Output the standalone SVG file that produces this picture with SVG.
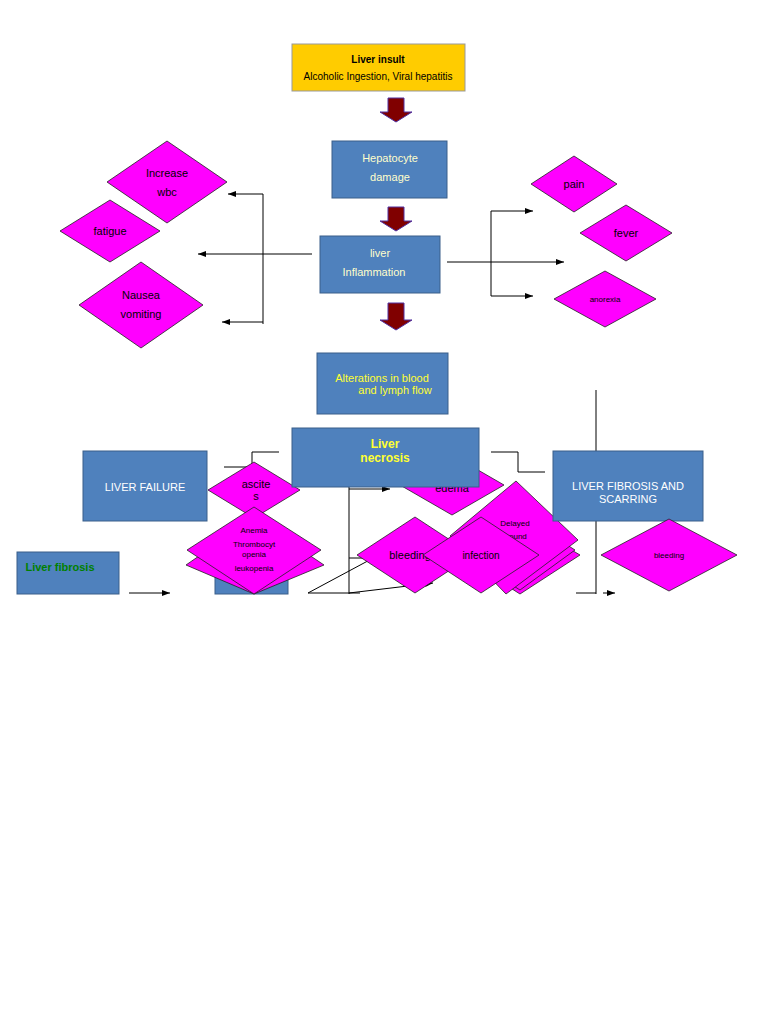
<svg xmlns="http://www.w3.org/2000/svg" width="768" height="1024" viewBox="0 0 768 1024">
<defs>
<style>
.b{fill:#4F81BD;stroke:#3A5F8A;stroke-width:1}
.d{fill:#FF00FF;stroke:#222;stroke-width:0.8}
.l{fill:none;stroke:#000;stroke-width:1}
.t{font-family:"Liberation Sans",Arial,sans-serif;text-anchor:middle}
.ra{fill:#800000;stroke:#5030A0;stroke-width:1}
</style>
<marker id="a" markerWidth="8" markerHeight="6" refX="8" refY="3" orient="auto"><path d="M0,0L8,3L0,6z" fill="#000"/></marker>
</defs>
<rect width="768" height="1024" fill="#fff"/>
<g id="insult"><rect x="292" y="44" width="173" height="47" fill="#FFCC00" stroke="#999"/>
<text class="t" x="378" y="63" font-size="10" font-weight="bold">Liver insult</text>
<text class="t" x="378" y="80" font-size="10">Alcoholic Ingestion, Viral hepatitis</text></g>
<g id="bigarrows">
<path class="ra" d="M388,98h16v14h8l-16,10l-16-10h8z"/>
<path class="ra" d="M388,207h16v14h8l-16,10l-16-10h8z"/>
<path class="ra" d="M388,303h16v17h8l-16,10l-16-10h8z"/>
</g>
<g id="connectors">
<path class="l" d="M312,254H198" marker-end="url(#a)"/>
<path class="l" d="M263,194V324"/>
<path class="l" d="M263,194H228" marker-end="url(#a)"/>
<path class="l" d="M263,322H222" marker-end="url(#a)"/>
<path class="l" d="M447,262H564" marker-end="url(#a)"/>
<path class="l" d="M491,211V296"/>
<path class="l" d="M491,211H533" marker-end="url(#a)"/>
<path class="l" d="M491,296H533" marker-end="url(#a)"/>
<path class="l" d="M596,390V594"/>
<path class="l" d="M349,470V594"/>
<path class="l" d="M349,489H390" marker-end="url(#a)"/>
<path class="l" d="M491,452H518V472H545"/>
<path class="l" d="M279,452H252V467H224"/>
<path class="l" d="M129,593H170" marker-end="url(#a)"/>
<path class="l" d="M308,593L377,556" marker-end="url(#a)"/>
<path class="l" d="M308,593H360"/>
<path class="l" d="M349,558H412" marker-end="url(#a)"/>
<path class="l" d="M349,593L433,583" marker-end="url(#a)"/>
<path class="l" d="M576,593H596"/>
<path class="l" d="M603,593H615" marker-end="url(#a)"/>
</g>
<g id="increase"><polygon class="d" points="167,141 227,182 167,223 107,182"/><text class="t" x="167" y="177" font-size="11">Increase</text><text class="t" x="167" y="196" font-size="11">wbc</text></g>
<g id="fatigue"><polygon class="d" points="110,200 160,231 110,262 60,231"/><text class="t" x="110" y="235" font-size="11">fatigue</text></g>
<g id="nausea"><polygon class="d" points="141,262 203,305 141,348 79,305"/><text class="t" x="141" y="299" font-size="11">Nausea</text><text class="t" x="141" y="318" font-size="11">vomiting</text></g>
<g id="pain"><polygon class="d" points="574,156 617,184 574,212 531,184"/><text class="t" x="574" y="188" font-size="11">pain</text></g>
<g id="fever"><polygon class="d" points="626,205 672,233 626,261 580,233"/><text class="t" x="626" y="237" font-size="11">fever</text></g>
<g id="anorexia"><polygon class="d" points="605,271 656,299 605,327 554,299"/><text class="t" x="605" y="302" font-size="8">anorexia</text></g>
<g id="hepatocyte"><rect class="b" x="332" y="141" width="115" height="57"/><text class="t" x="390" y="162" font-size="11" fill="#FFFFCC">Hepatocyte</text><text class="t" x="390" y="181" font-size="11" fill="#FFFFCC">damage</text></g>
<g id="inflammation"><rect class="b" x="320" y="236" width="120" height="57"/><text class="t" x="380" y="257" font-size="11" fill="#FFFFCC">liver</text><text class="t" x="374" y="276" font-size="11" fill="#FFFFCC">Inflammation</text></g>
<g id="alterations"><rect class="b" x="317" y="353" width="131" height="61"/><text class="t" x="382" y="382" font-size="11" fill="#FFFF33">Alterations in blood</text><text class="t" x="395" y="394" font-size="11" fill="#FFFF33">and lymph flow</text></g>
<g id="failure"><rect class="b" x="83" y="451" width="124" height="70"/><text class="t" x="145" y="491" font-size="11" fill="#fff">LIVER FAILURE</text></g>
<g id="fibrosis"><rect class="b" x="17" y="552" width="102" height="42"/><text class="t" x="60" y="571" font-size="11" font-weight="bold" fill="#008000">Liver fibrosis</text></g>
<g id="smallbox"><rect class="b" x="215" y="568" width="73" height="26"/></g>
<g id="edema"><polygon class="d" points="452,455 504,485 452,515 400,485"/><text class="t" x="452" y="492" font-size="11">edema</text></g>
<g id="delayed">
<polygon class="d" points="516,517 580,555 520,594 460,556"/>
<polygon class="d" points="516,512 575,550 520,590 460,552"/>
<polygon class="d" points="516,481 578,540 506,594 450,536"/>
<text class="t" x="515" y="526" font-size="8">Delayed</text><text class="t" x="515" y="539" font-size="8">wound</text></g>
<g id="bleeding1"><polygon class="d" points="415,517 473,555 415,593 357,555"/><text class="t" x="410" y="559" font-size="11">bleeding</text></g>
<g id="infection"><polygon class="d" points="481,517 539,555 481,593 423,555"/><text class="t" x="481" y="559" font-size="10">infection</text></g>
<g id="ascites"><polygon class="d" points="254,462 300,490 254,518 208,490"/><text class="t" x="256" y="488" font-size="11">ascite</text><text class="t" x="256" y="500" font-size="11">s</text></g>
<g id="anemia">
<polygon class="d" points="254,518 324,565 254,594 186,565"/>
<polygon class="d" points="254,507 321,550 254,594 187,550"/>
<text class="t" x="254" y="533" font-size="8">Anemia</text><text class="t" x="254" y="547" font-size="8">Thrombocyt</text><text class="t" x="254" y="557" font-size="8">openia</text><text class="t" x="254" y="571" font-size="8">leukopenia</text></g>
<g id="necrosis"><rect class="b" x="292" y="428" width="187" height="59"/><text class="t" x="385" y="448" font-size="12" font-weight="bold" fill="#FFFF33">Liver</text><text class="t" x="385" y="462" font-size="12" font-weight="bold" fill="#FFFF33">necrosis</text></g>
<g id="scarring"><rect class="b" x="553" y="451" width="150" height="70"/><text class="t" x="628" y="490" font-size="11" fill="#fff">LIVER FIBROSIS AND</text><text class="t" x="628" y="503" font-size="11" fill="#fff">SCARRING</text></g>
<g id="bleeding2"><polygon class="d" points="669,519 737,555 669,591 601,555"/><text class="t" x="669" y="558" font-size="8">bleeding</text></g>
</svg>
